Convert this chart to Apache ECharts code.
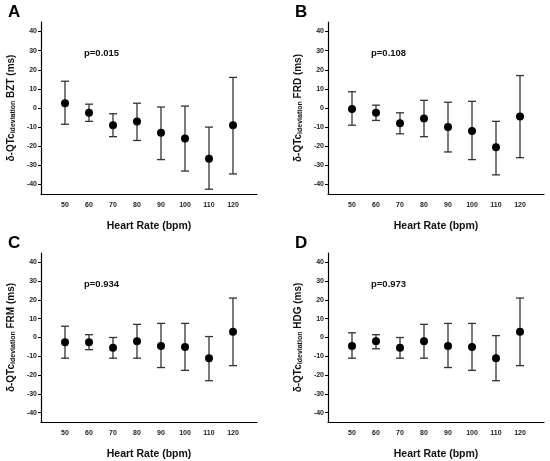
<!DOCTYPE html>
<html><head><meta charset="utf-8">
<script src="https://cdn.jsdelivr.net/npm/echarts@6/dist/echarts.min.js"></script>
<style>html,body{margin:0;background:#fff}#c{width:550px;height:461px}</style>
</head><body><div id="c"></div>
<script>
// heart rate categories
var heartRate = [50, 60, 70, 80, 90, 100, 110, 120];
var yTicks = [-40, -30, -20, -10, 0, 10, 20, 30, 40];

// A - BZT
var meanA = [2.5, -2.5, -9, -7, -13, -16, -26.5, -9];
var upA = [14, 2, -3, 2.5, 0.5, 1, -10, 16];
var lowA = [-8.5, -7, -15, -17, -27, -33, -42.5, -34.5];
// B - FRD
var meanB = [-0.5, -2.5, -8, -5.5, -10, -12, -20.5, -4.5];
var upB = [8.5, 1.5, -2.5, 4, 3, 3.5, -7, 17];
var lowB = [-9, -6.5, -13.5, -15, -23, -27, -35, -26];
// C - FRM
var meanC = [-2.5, -2.5, -5.5, -2, -4.5, -5, -11, 3];
var upC = [6, 1.5, 0, 7, 7.5, 7.5, 0.5, 21];
var lowC = [-11, -6.5, -11, -11, -16, -17.5, -23, -15];
// D - HDG
var meanD = [-4.5, -2, -5.5, -2, -4.5, -5, -11, 3];
var upD = [2.5, 1.5, 0, 7, 7.5, 7.5, 1, 21];
var lowD = [-11, -6, -11, -11, -16, -17.5, -23, -15];

var panels = [
  {letter: 'A', name: 'BZT', p: 'p=0.015', mean: meanA, up: upA, low: lowA, x: 41, y: 22},
  {letter: 'B', name: 'FRD', p: 'p=0.108', mean: meanB, up: upB, low: lowB, x: 328, y: 22},
  {letter: 'C', name: 'FRM', p: 'p=0.934', mean: meanC, up: upC, low: lowC, x: 41, y: 253},
  {letter: 'D', name: 'HDG', p: 'p=0.973', mean: meanD, up: upD, low: lowD, x: 328, y: 253}
];

var chart = echarts.init(document.getElementById('c'));
var grid = [], xAxis = [], yAxis = [], series = [], graphic = [];
var font = 'Arial, "Liberation Sans", sans-serif';

panels.forEach(function (p, i) {
  grid.push({left: p.x, top: p.y, width: 216, height: 172});
  xAxis.push({
    type: 'value', gridIndex: i, min: 40, max: 130, interval: 10,
    splitLine: {show: false}, axisTick: {show: false},
    axisLine: {onZero: false, lineStyle: {color: '#000', width: 1.2}},
    axisLabel: {fontSize: 7, fontWeight: 'bold', color: '#222', fontFamily: font, margin: 8,
      formatter: function (v) { return (v < 50 || v > 120) ? '' : v; }},
    name: 'Heart Rate (bpm)', nameLocation: 'middle', nameGap: 27,
    nameTextStyle: {fontSize: 10.5, fontWeight: 'bold', color: '#111', fontFamily: font}
  });
  yAxis.push({
    type: 'value', gridIndex: i, min: -45, max: 45,
    splitLine: {show: false},
    axisLine: {show: true, onZero: false, lineStyle: {color: '#000', width: 1.2}},
    axisTick: {show: true, length: 3, customValues: yTicks, lineStyle: {color: '#000'}},
    axisLabel: {fontSize: 7, fontWeight: 'bold', color: '#222', fontFamily: font, margin: 4, customValues: yTicks},
    name: '{m|δ-QTc}{s|ideviation}{m| ' + p.name + ' (ms)}',
    nameLocation: 'middle', nameGap: 24, nameRotate: 90,
    nameTextStyle: {rich: {
      m: {fontSize: 10, fontWeight: 'bold', color: '#111', fontFamily: font},
      s: {fontSize: 7, fontWeight: 'bold', color: '#111', fontFamily: font, verticalAlign: 'bottom', padding: [5, 0, 0, 0]}
    }}
  });
  series.push({
    type: 'custom', xAxisIndex: i, yAxisIndex: i,
    data: heartRate.map(function (h, k) { return [h, p.low[k], p.up[k]]; }),
    encode: {x: 0, y: [1, 2]},
    renderItem: function (params, api) {
      var a = api.coord([api.value(0), api.value(1)]);
      var b = api.coord([api.value(0), api.value(2)]);
      var st = {stroke: '#333', lineWidth: 1.3};
      return {type: 'group', children: [
        {type: 'line', shape: {x1: a[0], y1: a[1], x2: b[0], y2: b[1]}, style: st},
        {type: 'line', shape: {x1: a[0] - 4, y1: a[1], x2: a[0] + 4, y2: a[1]}, style: st},
        {type: 'line', shape: {x1: b[0] - 4, y1: b[1], x2: b[0] + 4, y2: b[1]}, style: st}
      ]};
    }
  });
  series.push({
    type: 'scatter', xAxisIndex: i, yAxisIndex: i, symbolSize: 8,
    itemStyle: {color: '#000', opacity: 1}, z: 5,
    data: heartRate.map(function (h, k) { return [h, p.mean[k]]; })
  });
  graphic.push({type: 'text', left: p.x - 33, top: p.y - 18,
    style: {text: p.letter, fill: '#000', font: 'bold 17px ' + font}});
  graphic.push({type: 'text', left: p.x + 43, top: p.y + 26,
    style: {text: p.p, font: 'bold 9.5px ' + font, fill: '#111'}});
});

chart.setOption({animation: false, grid: grid, xAxis: xAxis, yAxis: yAxis, series: series, graphic: graphic});
</script></body></html>
